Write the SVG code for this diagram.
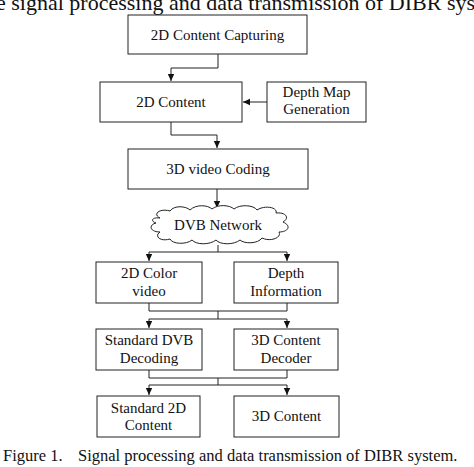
<svg xmlns="http://www.w3.org/2000/svg" width="474" height="467" viewBox="0 0 474 467">
<defs>
<marker id="ah" markerWidth="8" markerHeight="8" refX="7" refY="4" orient="auto" markerUnits="userSpaceOnUse">
<path d="M0,0.8 L7,4 L0,7.2 Z" fill="#111"/>
</marker>
<style>
.box{fill:#fff;stroke:#222;stroke-width:1}
.t{font-family:"Liberation Serif","Times New Roman",serif;font-size:15px;fill:#111;text-anchor:middle}
.c{fill:none;stroke:#222;stroke-width:1}
.cap{font-family:"Liberation Serif","Times New Roman",serif;fill:#111}
</style>
</defs>
<rect width="474" height="467" fill="#fff"/>
<text class="cap" x="-4" y="10" font-size="22">e signal processing and data transmission of DIBR system</text>

<g id="connectors">
<path class="c" d="M218,54 V68 H171 V81" marker-end="url(#ah)"/>
<path class="c" d="M267,102 H243" marker-end="url(#ah)"/>
<path class="c" d="M171,122 V135 H217 V148" marker-end="url(#ah)"/>
<path class="c" d="M217,189 V208" marker-end="url(#ah)"/>
<path class="c" d="M218,245 V252"/>
<path class="c" d="M149,252 H287"/>
<path class="c" d="M149,252 V261" marker-end="url(#ah)"/>
<path class="c" d="M287,252 V261" marker-end="url(#ah)"/>
<path class="c" d="M149,303 V311 H287 V303"/>
<path class="c" d="M218,311 V319"/>
<path class="c" d="M149,319 H287"/>
<path class="c" d="M149,319 V328" marker-end="url(#ah)"/>
<path class="c" d="M287,319 V328" marker-end="url(#ah)"/>
<path class="c" d="M149,370 V378 H287 V370"/>
<path class="c" d="M218,378 V385"/>
<path class="c" d="M149,385 H287"/>
<path class="c" d="M149,385 V395" marker-end="url(#ah)"/>
<path class="c" d="M287,385 V395" marker-end="url(#ah)"/>
</g>

<g id="n-capture">
<rect class="box" x="128" y="15" width="179" height="39"/>
<text class="t" x="217.5" y="39.5">2D Content Capturing</text>
</g>
<g id="n-2dcontent">
<rect class="box" x="100" y="82" width="142" height="40"/>
<text class="t" x="171" y="107">2D Content</text>
</g>
<g id="n-depthmap">
<rect class="box" x="267" y="82" width="99" height="40"/>
<text class="t" x="316.5" y="97">Depth Map</text>
<text class="t" x="316.5" y="114">Generation</text>
</g>
<g id="n-coding">
<rect class="box" x="128" y="149" width="180" height="40"/>
<text class="t" x="218" y="174">3D video Coding</text>
</g>
<g id="n-dvb">
<path class="box" d="M160,218 C152,214 160,208 170,211 C174,205 186,206 190,210 C196,204 208,205 212,209 C218,204 230,205 234,209 C240,204 254,205 257,210 C264,205 278,207 276,213 C286,212 290,218 283,222 C292,226 288,232 279,232 C282,238 270,242 262,238 C258,244 244,244 240,240 C234,245 220,245 216,240 C210,245 196,245 192,240 C186,245 172,244 170,239 C160,242 154,236 160,232 C150,232 148,225 156,223 C150,221 152,217 160,218 Z"/>
<text class="t" x="218" y="230">DVB Network</text>
</g>
<g id="n-color">
<rect class="box" x="96" y="262" width="106" height="41"/>
<text class="t" x="149" y="278">2D Color</text>
<text class="t" x="149" y="296">video</text>
</g>
<g id="n-depthinfo">
<rect class="box" x="234" y="262" width="104" height="41"/>
<text class="t" x="286" y="278">Depth</text>
<text class="t" x="286" y="296">Information</text>
</g>
<g id="n-stddvb">
<rect class="box" x="96" y="329" width="106" height="41"/>
<text class="t" x="149" y="345">Standard DVB</text>
<text class="t" x="149" y="363">Decoding</text>
</g>
<g id="n-3ddec">
<rect class="box" x="234" y="329" width="104" height="41"/>
<text class="t" x="286" y="345">3D Content</text>
<text class="t" x="286" y="363">Decoder</text>
</g>
<g id="n-std2d">
<rect class="box" x="97" y="396" width="103" height="41"/>
<text class="t" x="148.5" y="413">Standard 2D</text>
<text class="t" x="148.5" y="430">Content</text>
</g>
<g id="n-3dcontent">
<rect class="box" x="234" y="396" width="105" height="41"/>
<text class="t" x="286.5" y="421">3D Content</text>
</g>

<text class="cap" x="3" y="460.5" font-size="16.5">Figure 1.</text>
<text class="cap" x="78" y="460.5" font-size="16.5">Signal processing and data transmission of DIBR system.</text>
</svg>
